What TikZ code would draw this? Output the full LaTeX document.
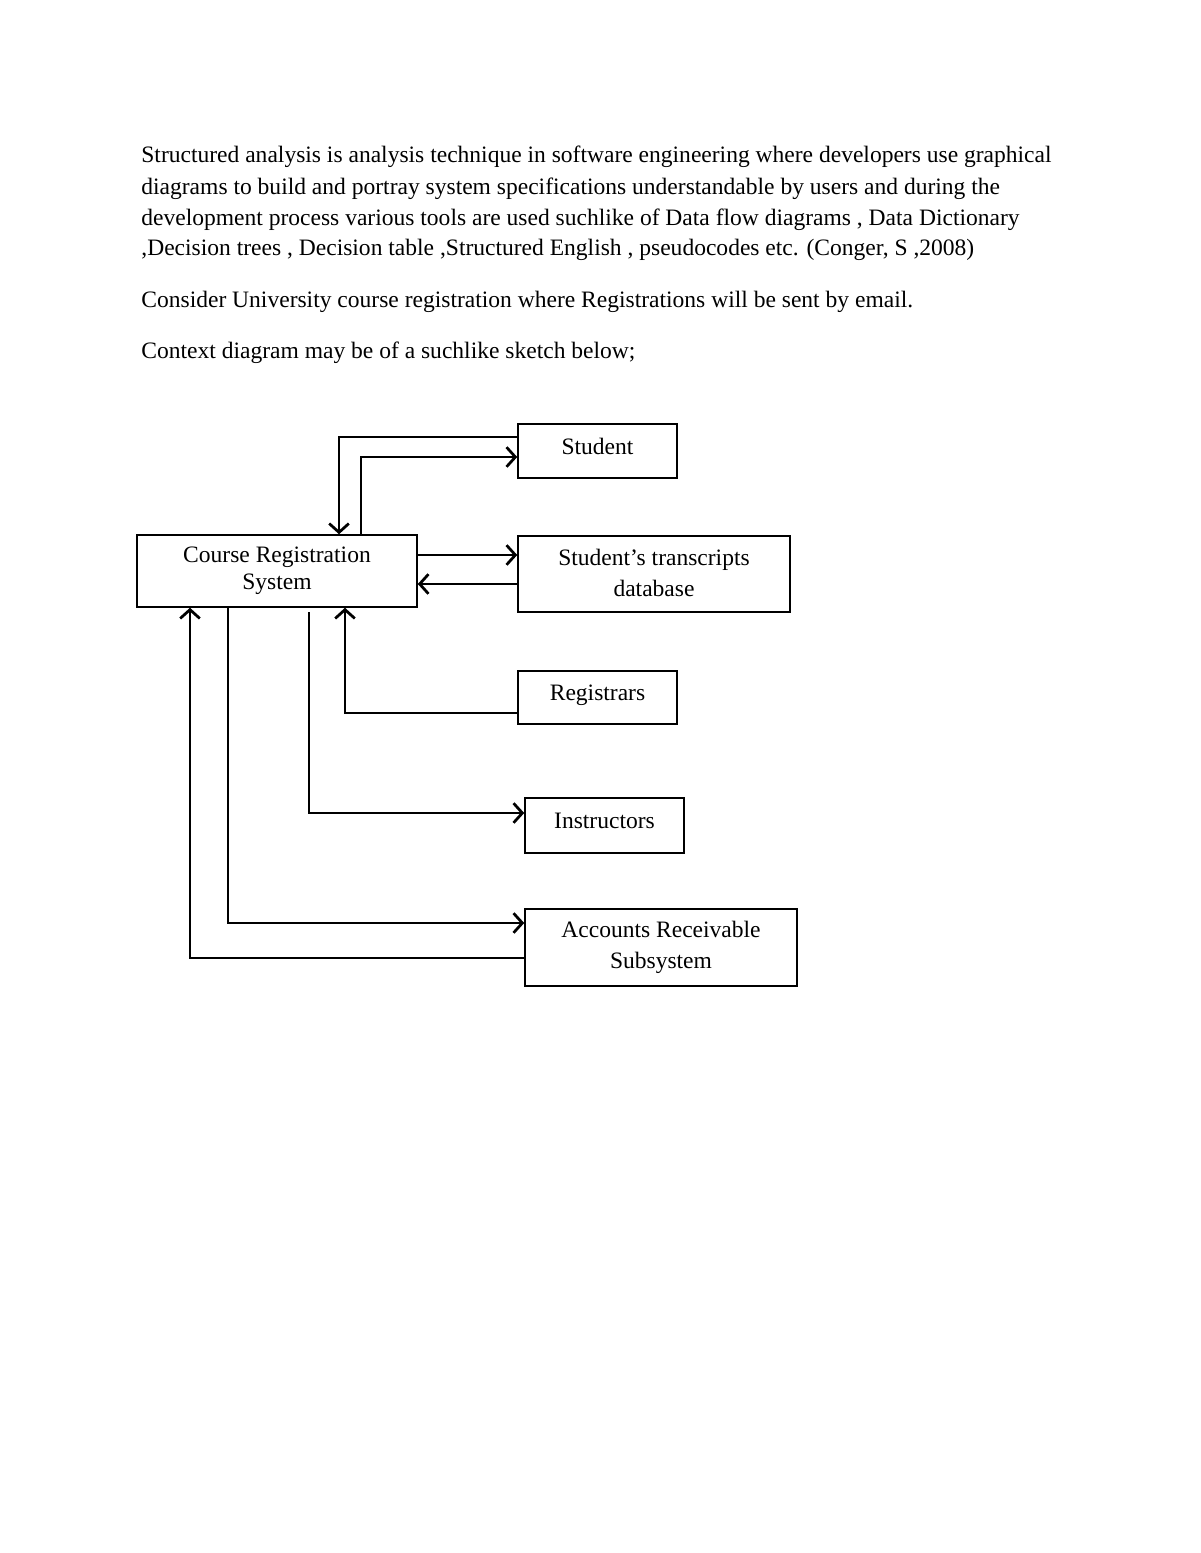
\documentclass[tikz,border=0pt]{standalone}
\usepackage{fontspec}
\setmainfont{Liberation Serif}
\usetikzlibrary{arrows.meta,calc}
\newcommand{\upshift}{\rule[-5pt]{0pt}{0pt}}
\begin{document}
\begin{tikzpicture}[x=0.51pt,y=-0.51pt,
  box/.style={draw,line width=0.8pt,inner sep=0pt,align=center,font=\fontsize{12}{15.8}\selectfont},
  flow/.style={line width=1.5pt,-{Straight Barb[length=4.5pt,width=10pt,line width=1.4pt]}},
  para/.style={anchor=base west,inner sep=0pt,font=\fontsize{12}{14}\selectfont}]
\useasboundingbox (0,0) rectangle (1200,1553);
\node[para] (t1) at (141,163) {Structured analysis is analysis technique in software engineering where developers use graphical};
\node[para] (t2) at (141,194) {diagrams to build and portray system specifications understandable by users and during the};
\node[para] (t3) at (141,225) {development process various tools are used suchlike of Data flow diagrams , Data Dictionary};
\node[para] (t4) at (141,256) {,Decision trees , Decision table ,Structured English , pseudocodes etc. (Conger, S ,2008)};
\node[para] (t5) at (141,307) {Consider University course registration where Registrations will be sent by email.};
\node[para] (t6) at (141,358) {Context diagram may be of a suchlike sketch below;};

\node[box,minimum width=280*0.51pt,minimum height=72*0.51pt,font=\fontsize{12}{13.8}\selectfont] (crs) at (277,571) {Course Registration\\System};
\node[box,minimum width=159*0.51pt,minimum height=54*0.51pt] (stu) at (597.5,451) {Student\upshift};
\node[box,minimum width=272*0.51pt,minimum height=76*0.51pt] (trn) at (654,574) {Student's transcripts\\database\rule[-1.5pt]{0pt}{0pt}};
\node[box,minimum width=159*0.51pt,minimum height=53*0.51pt] (reg) at (597.5,697.5) {Registrars\upshift};
\node[box,minimum width=159*0.51pt,minimum height=55*0.51pt] (ins) at (604.5,825.5) {Instructors\upshift};
\node[box,minimum width=272*0.51pt,minimum height=77*0.51pt] (acc) at (661,947.5) {Accounts Receivable\\Subsystem};

\draw[flow] (stu.west |- 0,437) -| (crs.north -| 339,0);
\draw[flow] (crs.north -| 361,0) |- (stu.west |- 0,457);
\draw[flow] (crs.east |- 0,555) -- (trn.west |- 0,555);
\draw[flow] (trn.west |- 0,584) -- (crs.east |- 0,584);
\draw[flow] (reg.west |- 0,713) -| (crs.south -| 345,0);
\coordinate (insstart) at (309,612);
\draw[flow] (insstart) |- (ins.west |- 0,813);
\draw[flow] (crs.south -| 228,0) |- (acc.west |- 0,923);
\draw[flow] (acc.west |- 0,958) -| (crs.south -| 190,0);
\end{tikzpicture}
\end{document}
